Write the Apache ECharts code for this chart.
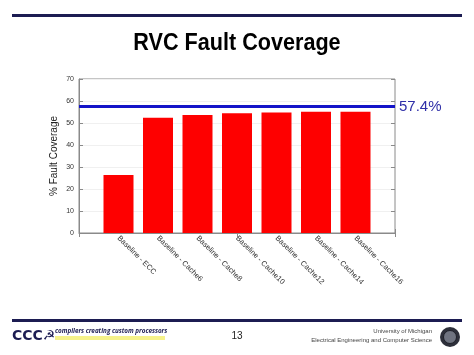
<!DOCTYPE html>
<html>
<head>
<meta charset="utf-8">
<script src="https://cdn.jsdelivr.net/npm/echarts@6/dist/echarts.min.js"></script>
<style>
  html, body { margin: 0; padding: 0; background: #fff; }
  #chart { width: 474px; height: 355px; }
</style>
</head>
<body>
<div id="chart"></div>
<script>
const categories = [
  'Baseline - ECC',
  'Baseline - Cache6',
  'Baseline - Cache8',
  'Baseline - Cache10',
  'Baseline - Cache12',
  'Baseline - Cache14',
  'Baseline - Cache16'
];
const coverage = [26.4, 52.4, 53.6, 54.4, 54.8, 55.1, 55.1];
const referenceLine = [57.4];
const yTicks = [0, 10, 20, 30, 40, 50, 60, 70];

// gnuplot leaves a one-slot gap on both sides, so pad the category list
const xData = [''].concat(categories, ['']);
const barData = [null].concat(coverage, [null]);

const chart = echarts.init(document.getElementById('chart'));

const axisGrey = '#8a8a8a';
const navy = '#1c1c52';

const option = {
  animation: false,
  backgroundColor: '#ffffff',
  grid: { left: 79, right: 79, top: 79, bottom: 122, show: true, borderColor: axisGrey, borderWidth: 1 },
  xAxis: [
    {
      type: 'category',
      data: xData,
      boundaryGap: false,
      axisLine: { lineStyle: { color: axisGrey } },
      axisTick: { inside: true, length: 4, lineStyle: { color: axisGrey } },
      axisLabel: {
        rotate: -45,
        fontSize: 7.5,
        color: '#333',
        fontFamily: 'Liberation Sans, Arial, sans-serif',
        margin: 4,
        interval: 0
      }
    },
    {
      type: 'category',
      data: xData,
      position: 'top',
      boundaryGap: false,
      axisLine: { show: false },
      axisTick: { inside: true, length: 4, lineStyle: { color: axisGrey } },
      axisLabel: { show: false }
    }
  ],
  yAxis: [
    {
      type: 'value',
      min: yTicks[0],
      max: yTicks[yTicks.length - 1],
      interval: 10,
      name: '% Fault Coverage',
      nameLocation: 'middle',
      nameGap: 20,
      nameMoveOverlap: false,
      nameTextStyle: { fontSize: 10, color: '#222', fontFamily: 'Liberation Sans, Arial, sans-serif' },
      axisLine: { show: true, lineStyle: { color: axisGrey } },
      axisTick: { show: true, inside: true, length: 4, lineStyle: { color: axisGrey } },
      axisLabel: { fontSize: 7, color: '#333', margin: 5, fontFamily: 'Liberation Sans, Arial, sans-serif' },
      splitLine: { show: true, lineStyle: { color: '#f0f0f0' } }
    },
    {
      type: 'value',
      min: yTicks[0],
      max: yTicks[yTicks.length - 1],
      interval: 10,
      position: 'right',
      axisLine: { show: false },
      axisTick: { show: true, inside: true, length: 4, lineStyle: { color: axisGrey } },
      axisLabel: { show: false },
      splitLine: { show: false }
    }
  ],
  series: [
    {
      type: 'bar',
      data: barData,
      barWidth: 30,
      itemStyle: { color: '#fe0000' },
      markLine: {
        silent: true,
        symbol: 'none',
        lineStyle: { color: '#1414c8', width: 3, type: 'solid' },
        label: {
          position: 'end',
          distance: 4,
          formatter: referenceLine[0] + '%',
          fontSize: 15,
          color: '#2f2fa8',
          fontFamily: 'Liberation Sans, Arial, sans-serif'
        },
        data: [{ yAxis: referenceLine[0] }]
      }
    }
  ],
  graphic: [
    { type: 'rect', shape: { x: 12, y: 14, width: 450, height: 3 }, style: { fill: navy } },
    {
      type: 'text', x: 237, y: 43, scaleX: 0.9,
      style: {
        text: 'RVC Fault Coverage', fill: '#000', align: 'center', verticalAlign: 'middle',
        font: 'bold 24px "Liberation Sans", Arial, sans-serif'
      }
    },
    { type: 'rect', shape: { x: 12, y: 319, width: 450, height: 3 }, style: { fill: navy } },
    {
      type: 'text', x: 12, y: 336,
      style: { text: 'CCC\u262D', fill: navy, verticalAlign: 'middle', font: 'bold 14px "DejaVu Sans", sans-serif' }
    },
    { type: 'rect', shape: { x: 55, y: 336, width: 110, height: 4 }, style: { fill: '#f6f28a' } },
    {
      type: 'text', x: 55, y: 331,
      style: { text: 'compilers creating custom processors', fill: navy, verticalAlign: 'middle', font: 'italic bold 6.3px "Open Sans", sans-serif' }
    },
    {
      type: 'text', x: 237, y: 336,
      style: { text: '13', fill: '#222', align: 'center', verticalAlign: 'middle', font: '10px "Liberation Sans", Arial, sans-serif' }
    },
    {
      type: 'text', x: 432, y: 331,
      style: { text: 'University of Michigan', fill: '#444', align: 'right', verticalAlign: 'middle', font: '6px "Liberation Sans", Arial, sans-serif' }
    },
    {
      type: 'text', x: 432, y: 340,
      style: { text: 'Electrical Engineering and Computer Science', fill: '#444', align: 'right', verticalAlign: 'middle', font: '6px "Liberation Sans", Arial, sans-serif' }
    },
    { type: 'circle', shape: { cx: 450, cy: 337, r: 10 }, style: { fill: '#2d2f3a' } },
    { type: 'circle', shape: { cx: 450, cy: 337, r: 6.5 }, style: { fill: '#6f7380', stroke: '#1e2028', lineWidth: 1 } }
  ]
};

chart.setOption(option);
</script>
</body>
</html>
